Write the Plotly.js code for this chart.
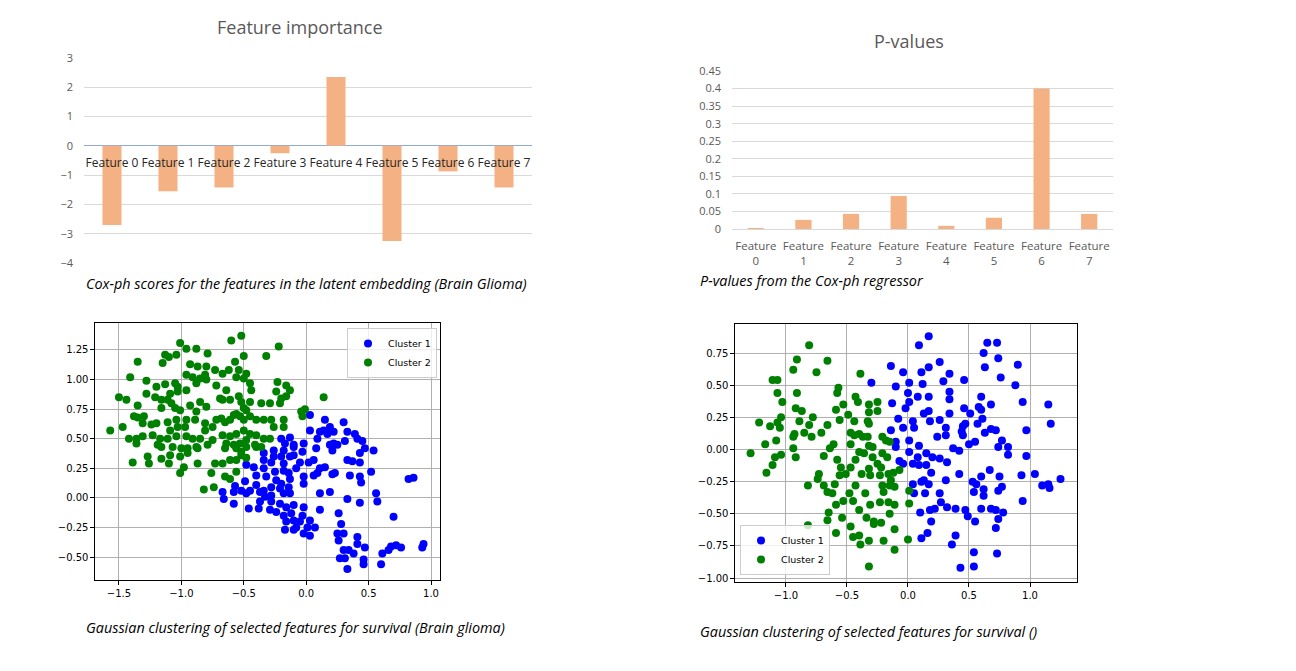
<!DOCTYPE html>
<html><head><meta charset="utf-8">
<script src="https://cdn.plot.ly/plotly-3.0.1.min.js"></script>
<style>html,body{margin:0;padding:0;background:#fff}#chart{width:1296px;height:671px}</style>
</head><body><div id="chart"></div>
<script>
// ---- data ----
const featureCats = ["Feature 0","Feature 1","Feature 2","Feature 3","Feature 4","Feature 5","Feature 6","Feature 7"];
const coxScores = [-2.7, -1.55, -1.42, -0.25, 2.35, -3.25, -0.87, -1.42];
const pCats = ["Feature<br>0","Feature<br>1","Feature<br>2","Feature<br>3","Feature<br>4","Feature<br>5","Feature<br>6","Feature<br>7"];
const pValues = [0.003, 0.026, 0.043, 0.094, 0.009, 0.032, 0.40, 0.043];

const gliomaCluster1 = [[0.03,0.70],[0.15,0.66],[0.30,0.64],[0.19,0.60],[0.14,0.57],[0.03,0.57],[0.11,0.56],[0.22,0.56],[0.33,0.56],[0.39,0.54],
[0.09,0.50],[0.17,0.54],[0.41,0.50],[0.31,0.48],[0.45,0.48],[0.22,0.46],[0.19,0.45],[0.25,0.45],[0.47,0.42],[0.54,0.40],
[0.43,0.38],[0.21,0.40],[0.08,0.42],[-0.20,0.50],[-0.13,0.51],[-0.17,0.46],[-0.10,0.45],[-0.02,0.46],[-0.34,0.38],[-0.26,0.40],
[-0.18,0.40],[-0.10,0.43],[-0.03,0.39],[-0.26,0.35],[-0.20,0.35],[-0.13,0.35],[-0.34,0.32],[-0.28,0.30],[-0.18,0.29],[-0.10,0.36],
[-0.05,0.30],[0.02,0.30],[0.06,0.32],[0.11,0.25],[0.15,0.26],[0.33,0.32],[0.37,0.31],[0.43,0.30],[-0.48,0.28],[-0.42,0.26],
[-0.34,0.25],[-0.25,0.22],[-0.18,0.23],[-0.14,0.21],[-0.08,0.25],[-0.02,0.18],[0.06,0.19],[0.09,0.21],[0.21,0.20],[0.23,0.21],
[0.35,0.19],[0.43,0.18],[0.52,0.22],[0.44,0.13],[0.82,0.16],[0.86,0.17],[-0.40,0.19],[-0.32,0.18],[-0.24,0.15],[-0.20,0.12],
[-0.13,0.16],[-0.49,0.14],[-0.57,0.10],[-0.40,0.11],[-0.34,0.06],[-0.28,0.09],[-0.21,0.08],[-0.14,0.09],[-0.13,0.04],[-0.02,0.12],
[-0.67,0.05],[-0.66,-0.01],[-0.58,-0.05],[-0.58,0.05],[-0.52,0.06],[-0.48,0.04],[-0.45,0.06],[-0.37,0.05],[-0.33,0.01],[-0.28,0.02],
[-0.18,0.04],[0.11,0.04],[0.19,0.05],[0.33,-0.01],[0.43,-0.04],[0.56,0.04],[0.57,-0.03],[-0.37,-0.03],[-0.28,-0.03],[-0.21,-0.05],
[-0.16,-0.08],[-0.46,-0.09],[-0.38,-0.09],[-0.29,-0.10],[-0.24,-0.12],[-0.10,-0.06],[-0.02,-0.08],[0.11,-0.10],[-0.18,-0.15],[-0.12,-0.13],
[-0.03,-0.15],[0.26,-0.13],[0.28,-0.22],[0.70,-0.16],[-0.16,-0.20],[-0.10,-0.19],[-0.05,-0.20],[0.03,-0.19],[0.07,-0.25],[0.01,-0.25],
[-0.08,-0.25],[-0.17,-0.27],[-0.10,-0.27],[-0.02,-0.30],[0.03,-0.32],[0.25,-0.30],[0.30,-0.30],[0.41,-0.33],[0.26,-0.36],[0.41,-0.39],
[0.47,-0.42],[0.30,-0.44],[0.34,-0.44],[0.38,-0.47],[0.31,-0.51],[0.27,-0.51],[0.46,-0.52],[0.46,-0.56],[0.60,-0.56],[0.33,-0.60],
[0.61,-0.47],[0.66,-0.44],[0.68,-0.41],[0.72,-0.40],[0.76,-0.42],[0.93,-0.42],[0.94,-0.39]];

const gliomaCluster2 = [[-0.52,1.37],[-0.60,1.33],[-1.01,1.31],[-0.22,1.28],[-0.88,1.26],[-0.96,1.26],[-0.50,1.20],[-0.32,1.20],[-0.79,1.22],[-1.13,1.21],
[-1.10,1.19],[-1.04,1.21],[-1.15,1.14],[-1.35,1.15],[-0.93,1.13],[-0.87,1.11],[-0.80,1.11],[-0.73,1.08],[-0.67,1.05],[-0.62,1.08],
[-0.57,1.15],[-0.54,1.08],[-0.48,1.05],[-1.41,1.02],[-1.28,0.99],[-1.13,0.96],[-1.05,0.97],[-1.03,0.94],[-0.96,1.04],[-0.91,1.02],
[-0.85,1.01],[-0.81,1.04],[-0.88,0.97],[-0.80,1.00],[-0.72,0.95],[-0.64,0.91],[-0.56,1.02],[-0.50,1.01],[-0.45,0.97],[-0.44,0.91],
[-0.23,0.98],[-0.16,0.95],[-0.13,0.91],[-0.16,0.86],[-0.24,0.90],[-0.20,0.84],[0.14,0.85],[-1.50,0.85],[-1.44,0.83],[-1.35,0.78],
[-1.28,0.88],[-1.20,0.94],[-1.21,0.85],[-1.16,0.83],[-1.09,0.88],[-1.03,0.90],[-0.96,0.91],[-1.11,0.83],[-1.08,0.80],[-1.16,0.76],
[-1.05,0.76],[-1.01,0.74],[-0.93,0.78],[-0.85,0.81],[-0.80,0.77],[-0.88,0.73],[-0.69,0.84],[-0.67,0.83],[-0.61,0.83],[-0.54,0.86],
[-0.52,0.81],[-0.45,0.81],[-0.36,0.80],[-0.29,0.80],[-0.21,0.80],[-0.50,0.76],[-0.48,0.74],[-0.58,0.70],[-0.53,0.69],[-0.04,0.73],
[-0.01,0.75],[-0.03,0.69],[-1.57,0.57],[-1.47,0.60],[-1.38,0.69],[-1.35,0.68],[-1.30,0.69],[-1.31,0.63],[-1.24,0.62],[-1.20,0.63],
[-1.11,0.64],[-1.04,0.66],[-0.96,0.66],[-0.97,0.60],[-1.03,0.60],[-1.09,0.57],[-0.89,0.66],[-0.81,0.63],[-0.81,0.57],[-0.75,0.60],
[-0.72,0.66],[-0.68,0.67],[-0.65,0.64],[-0.61,0.66],[-0.56,0.71],[-0.50,0.66],[-0.45,0.69],[-0.40,0.66],[-0.34,0.66],[-0.28,0.66],
[-0.26,0.60],[-0.18,0.66],[-0.18,0.60],[-1.42,0.50],[-1.36,0.50],[-1.31,0.52],[-1.23,0.53],[-1.17,0.50],[-1.11,0.50],[-1.04,0.52],
[-0.96,0.52],[-0.91,0.50],[-0.85,0.50],[-1.36,0.46],[-1.19,0.45],[-1.07,0.43],[-1.00,0.42],[-0.87,0.42],[-0.79,0.45],[-0.75,0.49],
[-0.67,0.53],[-0.61,0.52],[-0.56,0.54],[-0.50,0.57],[-0.45,0.54],[-0.40,0.53],[-0.34,0.50],[-0.29,0.50],[-0.64,0.46],[-0.58,0.45],
[-0.53,0.46],[-0.48,0.49],[-0.41,0.45],[-0.36,0.43],[-0.56,0.42],[-0.65,0.42],[-1.16,0.43],[-0.95,0.42],[-1.27,0.35],[-1.16,0.33],
[-1.09,0.36],[-1.01,0.35],[-0.95,0.38],[-0.88,0.43],[-1.39,0.30],[-1.26,0.29],[-1.10,0.29],[-0.98,0.26],[-0.87,0.29],[-0.73,0.29],
[-0.67,0.29],[-0.61,0.32],[-0.56,0.32],[-0.52,0.36],[-0.48,0.34],[-1.01,0.21],[-0.65,0.18],[-0.61,0.16],[-0.56,0.22],[-0.76,0.21],
[-0.82,0.07],[-0.74,0.09],[-0.48,0.43],[-0.52,0.39],[-0.40,0.43]];

const otherCluster1 = [[-0.30,0.52],[-0.14,0.65],[-0.13,0.36],[-0.10,0.49],[-0.14,0.15],[-0.10,0.06],[-0.10,0.02],[-0.08,0.24],[-0.04,0.60],[-0.04,0.17],
[-0.07,-0.09],[-0.04,-0.11],[-0.02,0.32],[0.00,0.44],[0.01,0.37],[0.01,0.52],[0.01,0.07],[0.01,-0.02],[0.04,-0.27],[0.05,-0.34],
[0.04,0.22],[0.05,0.17],[0.08,-0.06],[0.08,0.41],[0.09,0.03],[0.09,0.81],[0.11,0.60],[0.11,-0.25],[0.12,0.51],[0.13,0.28],
[0.11,-0.69],[0.14,-0.34],[0.15,-0.03],[0.15,-0.12],[0.17,0.88],[0.17,0.64],[0.17,0.41],[0.17,0.30],[0.18,0.22],[0.19,-0.18],
[0.18,-0.47],[0.19,-0.56],[0.16,-0.65],[0.20,-0.06],[0.22,-0.46],[0.24,0.10],[0.26,0.23],[0.26,0.68],[0.26,-0.07],[0.26,-0.34],
[0.27,-0.41],[0.29,0.53],[0.31,0.17],[0.31,0.11],[0.31,-0.24],[0.32,-0.45],[0.32,-0.10],[0.34,0.59],[0.34,0.45],[0.34,0.39],
[0.34,0.28],[0.37,0.01],[0.39,-0.46],[0.39,-0.67],[0.36,-0.74],[0.42,-0.01],[0.42,-0.19],[0.43,-0.92],[0.46,0.54],[0.46,0.32],
[0.45,0.18],[0.44,0.14],[0.45,0.11],[0.47,0.20],[0.47,-0.47],[0.49,-0.52],[0.50,0.04],[0.51,0.28],[0.53,-0.25],[0.54,-0.80],
[0.54,-0.91],[0.55,-0.56],[0.54,-0.33],[0.55,0.06],[0.56,-0.27],[0.57,0.20],[0.58,0.33],[0.60,-0.46],[0.60,0.31],[0.60,0.41],
[0.61,0.24],[0.62,0.75],[0.63,0.64],[0.62,-0.31],[0.62,-0.36],[0.60,-0.21],[0.63,0.13],[0.65,0.83],[0.67,-0.16],[0.68,-0.46],
[0.68,0.35],[0.68,0.16],[0.72,0.15],[0.73,0.83],[0.74,0.71],[0.76,0.56],[0.74,0.02],[0.75,-0.21],[0.72,-0.47],[0.72,-0.61],
[0.74,-0.54],[0.74,-0.32],[0.73,-0.81],[0.77,0.07],[0.77,-0.29],[0.78,-0.49],[0.82,0.02],[0.82,-0.04],[0.88,0.50],[0.90,0.66],
[0.94,0.37],[0.93,-0.20],[0.94,-0.40],[0.97,0.15],[0.97,-0.05],[1.04,-0.19],[1.10,-0.28],[1.15,0.35],[1.17,0.20],[1.15,-0.27],
[1.16,-0.30],[1.25,-0.23],[0.04,-0.11],[0.09,-0.12],[0.13,-0.24],[0.17,-0.27],[0.10,-0.49]];

const otherCluster2 = [[-1.29,-0.03],[-1.22,0.21],[-1.17,0.04],[-1.16,-0.18],[-1.13,0.18],[-1.11,0.54],[-1.07,0.54],[-1.11,-0.12],[-1.08,0.07],[-1.09,-0.06],
[-1.07,0.44],[-1.04,0.25],[-1.03,0.37],[-1.05,0.17],[-1.07,0.21],[-1.04,-0.04],[-0.94,0.62],[-0.91,0.70],[-0.91,0.44],[-0.92,0.32],
[-0.89,0.22],[-0.93,0.12],[-0.94,0.10],[-0.94,0.01],[-0.92,-0.06],[-0.87,0.30],[-0.85,0.13],[-0.81,0.81],[-0.75,0.60],[-0.78,0.25],
[-0.81,0.19],[-0.79,0.10],[-0.82,-0.28],[-0.82,-0.59],[-0.71,0.13],[-0.66,0.69],[-0.66,0.19],[-0.64,0.01],[-0.69,-0.05],[-0.73,-0.19],
[-0.74,-0.23],[-0.69,-0.28],[-0.66,-0.33],[-0.65,-0.49],[-0.66,-0.55],[-0.62,-0.34],[-0.61,0.04],[-0.59,0.31],[-0.57,0.48],[-0.58,0.44],
[-0.56,0.23],[-0.53,0.35],[-0.58,-0.08],[-0.55,-0.14],[-0.56,-0.20],[-0.51,-0.19],[-0.60,-0.27],[-0.59,-0.43],[-0.59,-0.65],[-0.53,-0.40],
[-0.54,-0.53],[-0.49,0.27],[-0.47,0.13],[-0.47,0.04],[-0.47,-0.14],[-0.48,-0.34],[-0.47,-0.60],[-0.44,0.22],[-0.44,0.11],[-0.43,0.41],
[-0.43,-0.08],[-0.43,-0.28],[-0.45,-0.40],[-0.45,-0.68],[-0.41,0.37],[-0.39,0.59],[-0.40,0.12],[-0.40,-0.02],[-0.38,-0.19],[-0.40,-0.47],
[-0.40,-0.67],[-0.39,-0.74],[-0.37,0.10],[-0.36,-0.03],[-0.35,-0.34],[-0.34,-0.53],[-0.33,0.22],[-0.32,0.35],[-0.32,0.29],[-0.32,0.20],
[-0.33,0.10],[-0.32,0.03],[-0.32,-0.15],[-0.31,-0.20],[-0.31,-0.43],[-0.32,-0.71],[-0.32,-0.91],[-0.29,0.02],[-0.29,-0.06],[-0.28,-0.56],
[-0.28,-0.58],[-0.25,0.30],[-0.25,0.37],[-0.25,-0.11],[-0.23,-0.20],[-0.22,-0.14],[-0.23,-0.41],[-0.22,-0.57],[-0.20,-0.71],[-0.21,0.10],
[-0.21,-0.03],[-0.21,-0.28],[-0.20,-0.33],[-0.18,0.07],[-0.17,-0.06],[-0.16,-0.19],[-0.15,-0.28],[-0.16,-0.41],[-0.15,-0.50],[-0.14,-0.24],
[-0.12,-0.18],[-0.11,-0.29],[-0.11,-0.43],[-0.11,-0.62],[-0.11,-0.78],[-0.07,-0.16],[0.01,-0.32],[0.01,-0.42],[0.00,-0.70],[-0.15,0.06]];

// ---- chart ----
const barColor = '#F4B183';
const xs = a => a.map(p => p[0]), ys = a => a.map(p => p[1]);
const mk = c => ({color: c, size: 8, line: {width: 0}});

const traces = [
  {type:'bar', x: featureCats, y: coxScores, xaxis:'x', yaxis:'y', marker:{color:barColor}, showlegend:false, hoverinfo:'x+y'},
  {type:'bar', x: pCats, y: pValues, xaxis:'x2', yaxis:'y2', marker:{color:barColor}, showlegend:false},
  {type:'scatter', mode:'markers', name:'Cluster 1', x: xs(gliomaCluster1), y: ys(gliomaCluster1), xaxis:'x3', yaxis:'y3', marker: mk('#0000ff'), legend:'legend'},
  {type:'scatter', mode:'markers', name:'Cluster 2', x: xs(gliomaCluster2), y: ys(gliomaCluster2), xaxis:'x3', yaxis:'y3', marker: mk('#008000'), legend:'legend'},
  {type:'scatter', mode:'markers', name:'Cluster 1', x: xs(otherCluster1), y: ys(otherCluster1), xaxis:'x4', yaxis:'y4', marker: mk('#0000ff'), legend:'legend2'},
  {type:'scatter', mode:'markers', name:'Cluster 2', x: xs(otherCluster2), y: ys(otherCluster2), xaxis:'x4', yaxis:'y4', marker: mk('#008000'), legend:'legend2'}
];

const FAM = 'Open Sans, Noto Sans, sans-serif';
const xlFont = {family:FAM, size:11, color:'#595959'};
const mplFont = {family:'DejaVu Sans, sans-serif', size:10, color:'#000'};
const mplAxis = (dom, anchor, range, dtick, fmt) => ({
  domain: dom, anchor: anchor, range: range, dtick: dtick, tick0: 0, tickformat: fmt,
  showline: true, mirror: true, linecolor: '#000', linewidth: 1,
  ticks: 'outside', ticklen: 3.5, tickcolor: '#000', tickwidth: 0.8,
  showgrid: true, gridcolor: '#b0b0b0', gridwidth: 0.8, zeroline: false,
  tickfont: mplFont
});
const legendFont = {family:'DejaVu Sans, sans-serif', size:9.5, color:'#000'};
const capFont = {family:FAM, size:14.4, color:'#000'};

const layout = {
  width: 1296, height: 671,
  margin: {l:0, r:0, t:0, b:0},
  paper_bgcolor: '#fff', plot_bgcolor: '#fff',
  bargap: 0.66,
  xaxis: {domain:[0.0648, 0.4105], anchor:'free', position:0.7824, type:'category',
          showgrid:false, showline:false, zeroline:false, ticks:'',
          tickfont:{family:FAM, size:12, color:'#262626'}, ticklabelstandoff: 8},
  yaxis: {domain:[0.608, 0.9136], anchor:'x', range:[-4,3], dtick:1, showgrid:true, gridcolor:'#d9d9d9',
          zeroline:true, zerolinecolor:'#8faadc', zerolinewidth:1, showline:false, ticks:'', tickfont:xlFont, ticklabelstandoff: 10},
  xaxis2: {domain:[0.5648, 0.8588], anchor:'y2', type:'category', showgrid:false, showline:true, linecolor:'#d9d9d9',
           ticks:'', tickfont:{family:FAM, size:11.5, color:'#595959'}, ticklabelstandoff: 6},
  yaxis2: {domain:[0.6587, 0.8942], anchor:'x2', range:[0,0.45], dtick:0.05, showgrid:true, gridcolor:'#d9d9d9',
           zeroline:false, showline:false, ticks:'', tickfont:xlFont, ticklabelstandoff: 10},
  xaxis3: mplAxis([0.0733, 0.3395], 'y3', [-1.692, 1.072], 0.5, '.1f'),
  yaxis3: mplAxis([0.1356, 0.5186], 'x3', [-0.694, 1.478], 0.25, '.2f'),
  xaxis4: mplAxis([0.5671, 0.8310], 'y4', [-1.418, 1.385], 0.5, '.1f'),
  yaxis4: mplAxis([0.1326, 0.5171], 'x4', [-1.031, 0.976], 0.25, '.2f'),
  legend: {x:0.3372, xanchor:'right', y:0.5112, yanchor:'top', bgcolor:'rgba(255,255,255,0.8)',
           bordercolor:'#cccccc', borderwidth:1, font:legendFont, itemwidth:30, tracegroupgap:0},
  legend2: {x:0.571, xanchor:'left', y:0.1431, yanchor:'bottom', bgcolor:'rgba(255,255,255,0.8)',
           bordercolor:'#cccccc', borderwidth:1, font:legendFont, itemwidth:30, tracegroupgap:0},
  annotations: [
    {text:'Feature importance', x:0.2315, y:0.9598, xref:'paper', yref:'paper', showarrow:false, xanchor:'center', yanchor:'middle',
     font:{family:FAM, size:18, color:'#595959'}},
    {text:'P-values', x:0.7014, y:0.9389, xref:'paper', yref:'paper', showarrow:false, xanchor:'center', yanchor:'middle',
     font:{family:FAM, size:18, color:'#595959'}},
    {text:'<i>Cox-ph scores for the features in the latent embedding (Brain Glioma)</i>', x:0.0648, y:0.5782, xref:'paper', yref:'paper',
     showarrow:false, xanchor:'left', yanchor:'middle', font:capFont},
    {text:'<i>P-values from the Cox-ph regressor</i>', x:0.5386, y:0.5827, xref:'paper', yref:'paper',
     showarrow:false, xanchor:'left', yanchor:'middle', font:capFont},
    {text:'<i>Gaussian clustering of selected features for survival (Brain glioma)</i>', x:0.0648, y:0.0641, xref:'paper', yref:'paper',
     showarrow:false, xanchor:'left', yanchor:'middle', font:capFont},
    {text:'<i>Gaussian clustering of selected features for survival ()</i>', x:0.5386, y:0.0596, xref:'paper', yref:'paper',
     showarrow:false, xanchor:'left', yanchor:'middle', font:capFont}
  ]
};

Plotly.newPlot('chart', traces, layout, {displayModeBar:false, responsive:false});
</script></body></html>
